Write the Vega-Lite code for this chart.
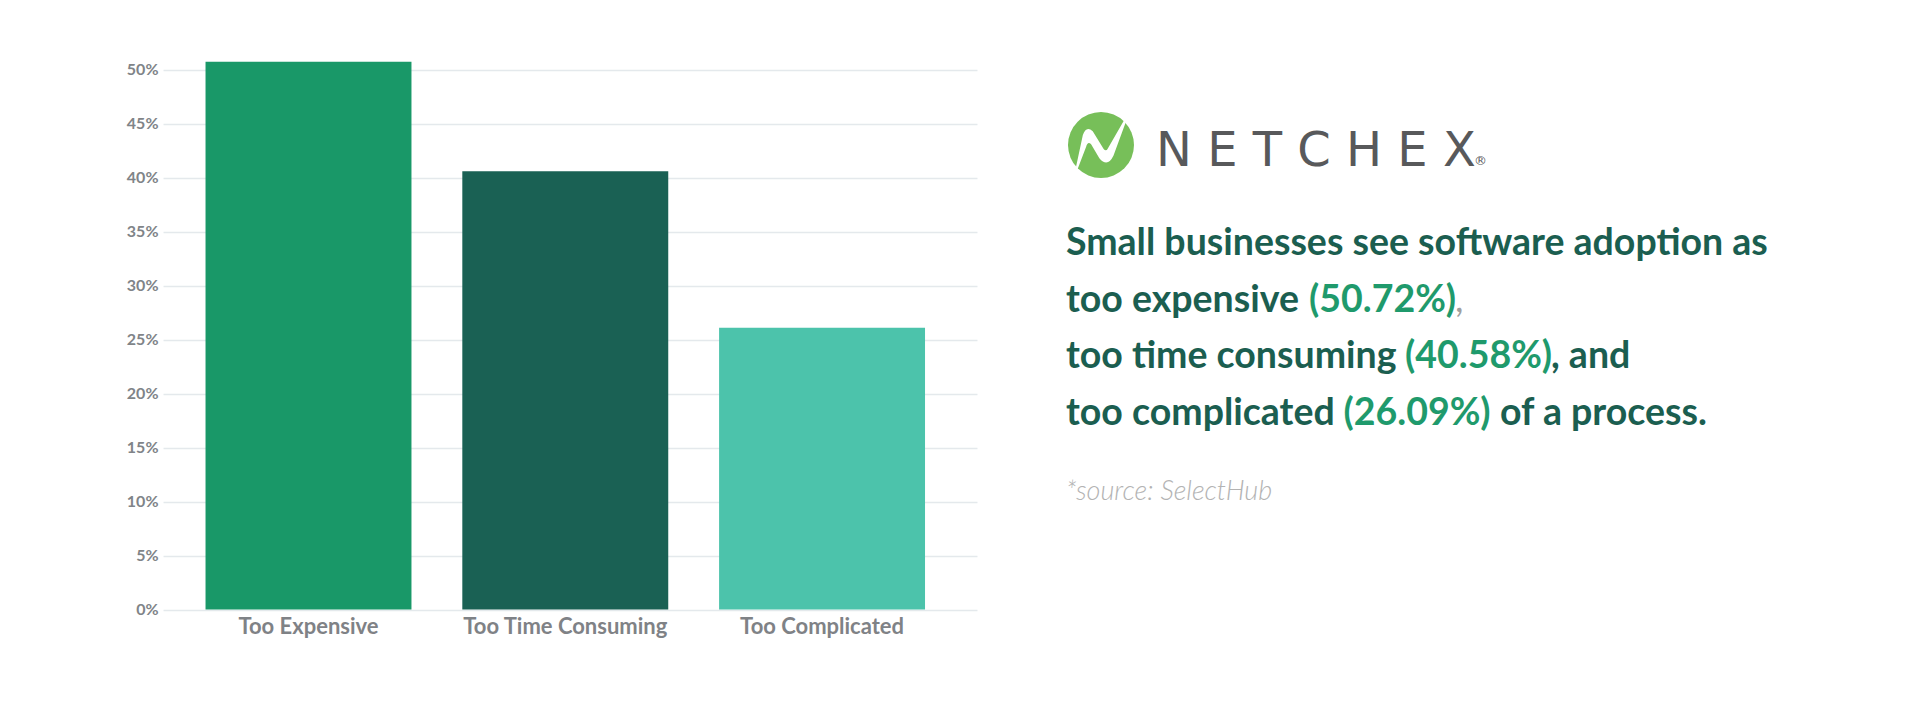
{
  "$schema": "https://vega.github.io/schema/vega-lite/v6.json",
  "background": "white",
  "padding": {"left": 126, "top": 48, "right": 0, "bottom": 30},
  "spacing": 89,
  "config": {"view": {"stroke": null}},
  "datasets": {
    "bars": [
      {"reason": "Too Expensive", "share": 50.72},
      {"reason": "Too Time Consuming", "share": 40.58},
      {"reason": "Too Complicated", "share": 26.09}
    ],
    "segments": [
      {"line": 1, "part": "lead", "text": "Small businesses see software adoption as"},
      {"line": 2, "part": "lead", "text": "too expensive"},
      {"line": 3, "part": "lead", "text": "too time consuming"},
      {"line": 4, "part": "lead", "text": "too complicated"},
      {"line": 2, "part": "num2", "text": "(50.72%)"},
      {"line": 2, "part": "comma2", "text": ","},
      {"line": 3, "part": "num3", "text": "(40.58%)"},
      {"line": 3, "part": "tail3", "text": ", and"},
      {"line": 4, "part": "num4", "text": "(26.09%)"},
      {"line": 4, "part": "tail4", "text": "of a process."}
    ],
    "logo": [{"line": 0, "name": "NETCHEX"}],
    "source": [{"line": 5, "text": "*source: SelectHub"}]
  },
  "hconcat": [
    {
      "width": 814,
      "height": 561.6,
      "data": {"name": "bars"},
      "mark": {"type": "bar"},
      "encoding": {
        "x": {
          "field": "reason", "type": "nominal", "sort": null,
          "scale": {"paddingInner": 0.198, "paddingOuter": 0.184, "align": 0.45},
          "axis": {"title": null, "labelAngle": 0, "domain": false, "ticks": false, "tickSize": 0,
                   "labelFont": "Lato", "labelFontWeight": "bold", "labelFontSize": 22, "labelLimit": 400,
                   "labelColor": "#7f8286", "labelPadding": 7}
        },
        "y": {
          "field": "share", "type": "quantitative",
          "scale": {"domain": [0, 52], "nice": false},
          "axis": {"title": null, "values": [0, 5, 10, 15, 20, 25, 30, 35, 40, 45, 50],
                   "labelExpr": "datum.value + '%'", "domain": false, "ticks": false, "tickSize": 0,
                   "labelPadding": 5, "labelFont": "Lato", "labelFontWeight": "bold", "labelFontSize": 16,
                   "labelColor": "#808488", "gridColor": "#e4e9ec", "gridWidth": 1.5}
        },
        "color": {
          "field": "reason", "type": "nominal",
          "scale": {"domain": ["Too Expensive", "Too Time Consuming", "Too Complicated"],
                    "range": ["#199868", "#1a6154", "#4cc3ab"]},
          "legend": null
        }
      }
    },
    {
      "width": 780,
      "height": 561.6,
      "layer": [
        {
          "data": {"name": "segments"},
          "transform": [{"filter": "datum.part === 'lead'"}],
          "mark": {"type": "text", "align": "left", "baseline": "alphabetic", "font": "Lato", "fontWeight": "bold", "fontSize": 37.5, "color": "#1b5e50"},
          "encoding": {
            "x": {"value": 0},
            "y": {"field": "line", "type": "quantitative", "scale": {"domain": [-2.651, 7.254], "nice": false, "zero": false, "reverse": true}, "axis": null},
            "text": {"field": "text"}
          }
        },
        {
          "data": {"name": "segments"},
          "transform": [{"filter": "datum.part === 'num2'"}],
          "mark": {"type": "text", "align": "left", "baseline": "alphabetic", "font": "Lato", "fontWeight": "bold", "fontSize": 37.5, "color": "#1f9a6c", "dx": 243},
          "encoding": {"x": {"value": 0}, "y": {"field": "line", "type": "quantitative"}, "text": {"field": "text"}}
        },
        {
          "data": {"name": "segments"},
          "transform": [{"filter": "datum.part === 'comma2'"}],
          "mark": {"type": "text", "align": "left", "baseline": "alphabetic", "font": "Lato", "fontWeight": "normal", "fontSize": 37.5, "color": "#a0a0a0", "dx": 389},
          "encoding": {"x": {"value": 0}, "y": {"field": "line", "type": "quantitative"}, "text": {"field": "text"}}
        },
        {
          "data": {"name": "segments"},
          "transform": [{"filter": "datum.part === 'num3'"}],
          "mark": {"type": "text", "align": "left", "baseline": "alphabetic", "font": "Lato", "fontWeight": "bold", "fontSize": 37.5, "color": "#1f9a6c", "dx": 339},
          "encoding": {"x": {"value": 0}, "y": {"field": "line", "type": "quantitative"}, "text": {"field": "text"}}
        },
        {
          "data": {"name": "segments"},
          "transform": [{"filter": "datum.part === 'tail3'"}],
          "mark": {"type": "text", "align": "left", "baseline": "alphabetic", "font": "Lato", "fontWeight": "bold", "fontSize": 37.5, "color": "#1b5e50", "dx": 485},
          "encoding": {"x": {"value": 0}, "y": {"field": "line", "type": "quantitative"}, "text": {"field": "text"}}
        },
        {
          "data": {"name": "segments"},
          "transform": [{"filter": "datum.part === 'num4'"}],
          "mark": {"type": "text", "align": "left", "baseline": "alphabetic", "font": "Lato", "fontWeight": "bold", "fontSize": 37.5, "color": "#1f9a6c", "dx": 277.5},
          "encoding": {"x": {"value": 0}, "y": {"field": "line", "type": "quantitative"}, "text": {"field": "text"}}
        },
        {
          "data": {"name": "segments"},
          "transform": [{"filter": "datum.part === 'tail4'"}],
          "mark": {"type": "text", "align": "left", "baseline": "alphabetic", "font": "Lato", "fontWeight": "bold", "fontSize": 37.5, "color": "#1b5e50", "dx": 434},
          "encoding": {"x": {"value": 0}, "y": {"field": "line", "type": "quantitative"}, "text": {"field": "text"}}
        },
        {
          "data": {"name": "logo"},
          "mark": {"type": "point", "shape": "circle", "filled": true, "size": 4356, "color": "#77bf59", "opacity": 1, "xOffset": 35, "yOffset": -53.3},
          "encoding": {"x": {"value": 0}, "y": {"field": "line", "type": "quantitative"}}
        },
        {
          "data": {"name": "logo"},
          "mark": {"type": "point", "shape": "M -0.85 1.1 L -0.55 -0.3 Q -0.45 -0.6 -0.25 -0.42 L 0.08 0.12 Q 0.16 0.22 0.22 0.08 L 0.9 -1.1 L 0.38 0.32 Q 0.2 0.7 -0.05 0.4 L -0.3 -0.02 Q -0.4 -0.12 -0.45 0.05 Z", "filled": true, "size": 4356, "color": "#ffffff", "opacity": 1, "xOffset": 35, "yOffset": -53.3},
          "encoding": {"x": {"value": 0}, "y": {"field": "line", "type": "quantitative"}}
        },
        {
          "data": {"name": "logo"},
          "mark": {"type": "text", "align": "left", "baseline": "alphabetic", "font": "DejaVu Sans", "fontSize": 48, "color": "#58595b", "dx": 90, "dy": -32.7},
          "encoding": {"x": {"value": 0}, "y": {"field": "line", "type": "quantitative"}, "text": {"value": "N E T C H E X"}}
        },
        {
          "data": {"name": "logo"},
          "mark": {"type": "text", "align": "left", "baseline": "alphabetic", "font": "DejaVu Sans", "fontSize": 13, "color": "#58595b", "dx": 408, "dy": -33},
          "encoding": {"x": {"value": 0}, "y": {"field": "line", "type": "quantitative"}, "text": {"value": "®"}}
        },
        {
          "data": {"name": "source"},
          "mark": {"type": "text", "align": "left", "baseline": "alphabetic", "font": "Lato", "fontStyle": "italic", "fontWeight": 300, "fontSize": 27, "color": "#b3b3b3", "dy": 18},
          "encoding": {"x": {"value": 0}, "y": {"field": "line", "type": "quantitative"}, "text": {"field": "text"}}
        }
      ]
    }
  ]
}
